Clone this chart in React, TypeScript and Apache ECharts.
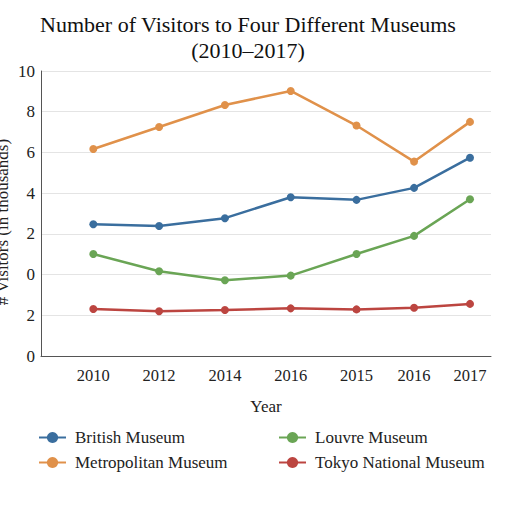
import { useEffect, useRef } from 'react';
import * as echarts from 'echarts';

// x positions of the seven points, in units of the first (even) step
const xPositions = [0, 1, 2, 3, 4, 4.875, 5.725];
const yearLabels = ['2010', '2012', '2014', '2016', '2015', '2016', '2017'];
const yTickLabels = ['0', '2', '0', '2', '4', '6', '8', '10'];

const britishMuseum = [6.47, 6.39, 6.77, 7.8, 7.67, 8.26, 9.74];
const metropolitanMuseum = [10.17, 11.25, 12.33, 13.02, 11.32, 9.55, 11.5];
const louvreMuseum = [5.01, 4.16, 3.72, 3.95, 5.01, 5.9, 7.7];
const tokyoMuseum = [2.31, 2.2, 2.26, 2.34, 2.29, 2.37, 2.56];

const FONT = "'Liberation Serif', 'DejaVu Serif', serif";

function lineSeries(name: string, values: number[], color: string) {
  return {
    name,
    type: 'line',
    data: xPositions.map((x, i) => [x, values[i]]),
    symbol: 'circle',
    symbolSize: 8,
    lineStyle: { color, width: 2.5 },
    itemStyle: { color },
  };
}

export default function App() {
  const chartRef = useRef<HTMLDivElement>(null);

  useEffect(() => {
    if (!chartRef.current) return;
    const chart = echarts.init(chartRef.current, null, { renderer: 'svg' });

    const legendBase = {
      orient: 'vertical',
      top: 424,
      itemWidth: 27,
      itemHeight: 14,
      itemGap: 8,
      textStyle: {
        fontFamily: FONT,
        fontSize: 17,
        color: '#222',
        lineHeight: 17,
        padding: [0, 0, 0, 4],
      },
    };

    const option: echarts.EChartsOption = {
      animation: false,
      backgroundColor: '#fff',
      title: {
        text: 'Number of Visitors to Four Different Museums\n(2010–2017)',
        left: 243,
        top: 6,
        textAlign: 'center',
        textStyle: {
          fontFamily: FONT,
          fontSize: 22,
          fontWeight: 'normal',
          color: '#111',
          lineHeight: 26,
        },
      },
      grid: { left: 41, right: 21, top: 71, bottom: 156 },
      xAxis: {
        type: 'value',
        min: -0.795,
        max: 6.044,
        name: 'Year',
        nameLocation: 'middle',
        nameGap: 42,
        nameTextStyle: { fontFamily: FONT, fontSize: 17, color: '#222' },
        axisLine: { show: true, onZero: false, lineStyle: { color: '#555', width: 1 } },
        axisTick: { show: false },
        splitLine: { show: false },
        axisLabel: {
          customValues: xPositions,
          margin: 11,
          fontFamily: FONT,
          fontSize: 16.5,
          color: '#222',
          formatter: (v: number) => {
            let best = 0;
            xPositions.forEach((p, i) => {
              if (Math.abs(p - v) < Math.abs(xPositions[best] - v)) best = i;
            });
            return yearLabels[best];
          },
        },
      },
      yAxis: {
        type: 'value',
        min: 0,
        max: 14,
        interval: 2,
        axisLine: { show: true, onZero: false, lineStyle: { color: '#555', width: 1 } },
        axisTick: { show: false },
        splitLine: { lineStyle: { color: '#e4e4e4', width: 1 } },
        axisLabel: {
          margin: 6,
          fontFamily: FONT,
          fontSize: 17,
          color: '#222',
          formatter: (v: number) => yTickLabels[Math.round(v / 2)] ?? '',
        },
      },
      legend: [
        { ...legendBase, left: 33, data: ['British Museum', 'Metropolitan Museum'] },
        { ...legendBase, left: 273, data: ['Louvre Museum', 'Tokyo National Museum'] },
      ] as any,
      graphic: [
        {
          type: 'text',
          x: 2,
          y: 222,
          rotation: Math.PI / 2,
          style: {
            text: '# Visitors (in thousands)',
            fontFamily: FONT,
            fontSize: 17,
            fill: '#222',
            align: 'center',
            verticalAlign: 'middle',
          },
        },
      ],
      series: [
        lineSeries('British Museum', britishMuseum, '#3a6e9e'),
        lineSeries('Metropolitan Museum', metropolitanMuseum, '#e0914a'),
        lineSeries('Louvre Museum', louvreMuseum, '#6aa555'),
        lineSeries('Tokyo National Museum', tokyoMuseum, '#bc4540'),
      ] as any,
    };

    chart.setOption(option);
    return () => {
      chart.dispose();
    };
  }, []);

  return (
    <div
      ref={chartRef}
      style={{ position: 'absolute', left: 0, top: 0, width: 512, height: 512 }}
    />
  );
}
